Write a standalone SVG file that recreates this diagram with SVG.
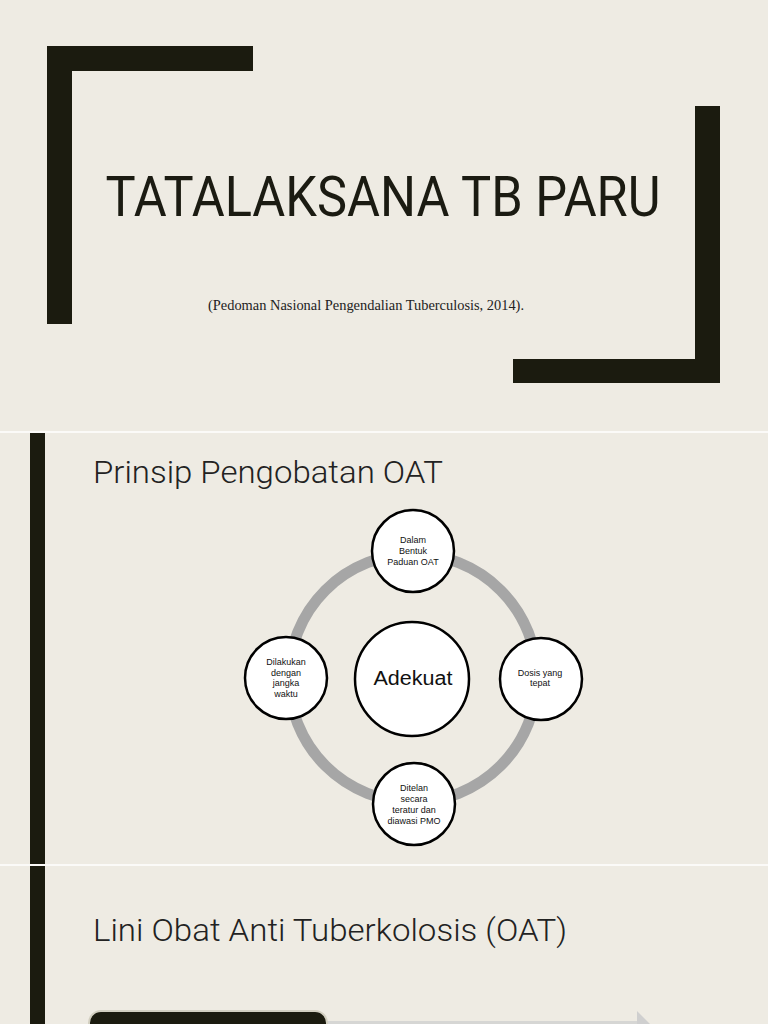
<svg xmlns="http://www.w3.org/2000/svg" width="768" height="1024" viewBox="0 0 768 1024">
<style>
.dark{fill:#1b1b0f}
.node{fill:#ffffff;stroke:#000000;stroke-width:2.5}
.small{font-family:"Liberation Sans",Arial,sans-serif;font-size:9px;fill:#111111;text-anchor:middle}
.head{font-family:Roboto,"Liberation Sans",sans-serif;font-weight:300;font-size:32px;fill:#222222}
</style>
<rect x="0" y="0" width="768" height="1024" fill="#eeebe3"/>
<g id="slide1">
<rect class="dark" x="47" y="46" width="206" height="25"/>
<rect class="dark" x="47" y="46" width="25" height="278"/>
<rect class="dark" x="695" y="106" width="25" height="277"/>
<rect class="dark" x="513" y="359" width="207" height="24"/>
<text x="383" y="216" text-anchor="middle" font-family="Roboto,'Liberation Sans',sans-serif" font-size="55" fill="#1b1b12" textLength="555" lengthAdjust="spacingAndGlyphs">TATALAKSANA TB PARU</text>
<text x="366" y="310" text-anchor="middle" font-family="'Liberation Serif','Times New Roman',serif" font-size="14" fill="#222222" textLength="316" lengthAdjust="spacingAndGlyphs">(Pedoman Nasional Pengendalian Tuberculosis, 2014).</text>
</g>
<line x1="0" y1="432" x2="768" y2="432" stroke="#ffffff" stroke-width="1.5"/>
<line x1="0" y1="865" x2="768" y2="865" stroke="#ffffff" stroke-width="1.5"/>
<rect class="dark" x="30" y="433" width="15" height="431"/>
<rect class="dark" x="30" y="866" width="15" height="158"/>
<text class="head" x="93" y="483" textLength="350" lengthAdjust="spacingAndGlyphs">Prinsip Pengobatan OAT</text>
<text class="head" x="93" y="941" textLength="474" lengthAdjust="spacingAndGlyphs">Lini Obat Anti Tuberkolosis (OAT)</text>
<g id="connectors">
<circle cx="413" cy="678" r="124" fill="none" stroke="#a6a6a6" stroke-width="11"/>
</g>
<g id="node-center">
<circle class="node" cx="412" cy="679" r="57"/>
<text x="413" y="685" text-anchor="middle" font-family="'Liberation Sans',Arial,sans-serif" font-size="20" fill="#111111" textLength="79" lengthAdjust="spacingAndGlyphs">Adekuat</text>
</g>
<g id="node-top">
<circle class="node" cx="413" cy="551" r="41"/>
<text class="small" x="413" y="543">Dalam</text>
<text class="small" x="413" y="554">Bentuk</text>
<text class="small" x="413" y="565">Paduan OAT</text>
</g>
<g id="node-right">
<circle class="node" cx="541" cy="679" r="41"/>
<text class="small" x="540" y="676">Dosis yang</text>
<text class="small" x="540" y="686">tepat</text>
</g>
<g id="node-bottom">
<circle class="node" cx="414" cy="804" r="41"/>
<text class="small" x="414" y="791">Ditelan</text>
<text class="small" x="414" y="802">secara</text>
<text class="small" x="414" y="813">teratur dan</text>
<text class="small" x="414" y="824">diawasi PMO</text>
</g>
<g id="node-left">
<circle class="node" cx="286" cy="678" r="41"/>
<text class="small" x="286" y="665">Dilakukan</text>
<text class="small" x="286" y="676">dengan</text>
<text class="small" x="286" y="686">jangka</text>
<text class="small" x="286" y="697">waktu</text>
</g>
<g id="bottom-shapes">
<rect x="326" y="1021" width="312" height="6" fill="#d6d6d4"/>
<polygon points="637,1011 652,1026 637,1026" fill="#cfcfcf"/>
<rect x="89" y="1011" width="238" height="30" rx="12" fill="#1b1b0f" stroke="#d2cfc0" stroke-width="2"/>
</g>
</svg>
